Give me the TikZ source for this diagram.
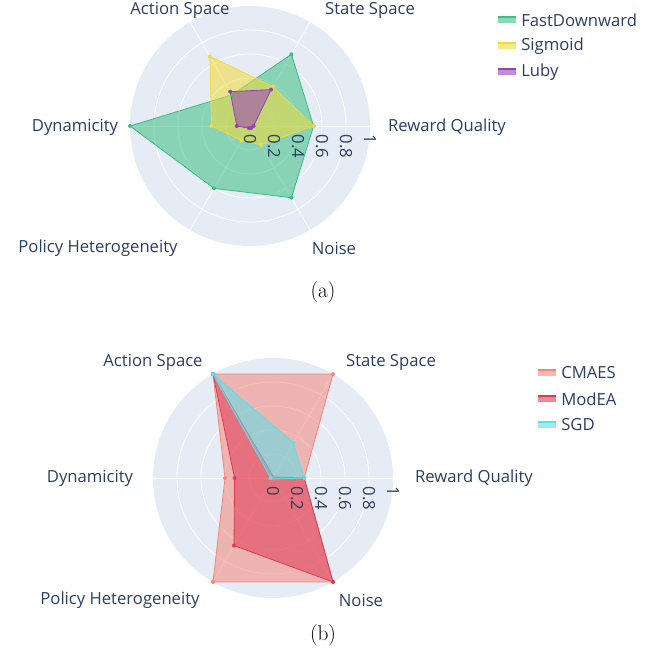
\documentclass[tikz,border=0pt]{standalone}
\usepackage{fontspec}
\setmainfont{Open Sans}
\newfontfamily\capfont{Latin Modern Roman}
\begin{document}
\begin{tikzpicture}[x=0.75pt,y=-0.75pt,
  lab/.style={text=txt,font=\fontsize{12.5}{14}\selectfont,inner sep=0pt},
  tick/.style={text=txt,font=\fontsize{12.5}{14}\selectfont,inner sep=0pt,rotate=-90,anchor=west},
  captext/.style={font=\capfont\fontsize{16}{18}\selectfont,inner sep=0pt},
  poly/.style={fill=#1,fill opacity=0.55,draw=#1,line width=0.6pt},
  dot/.style={fill=#1,circle,inner sep=0pt,minimum size=3pt}]
\definecolor{txt}{HTML}{2A3F5F}
\definecolor{bgp}{HTML}{E5ECF6}
\definecolor{colG}{HTML}{3DBE82}
\definecolor{colY}{HTML}{F2DA3A}
\definecolor{colP}{HTML}{9B3FB8}
\definecolor{colS}{HTML}{F4877A}
\definecolor{colM}{HTML}{E03A55}
\definecolor{colC}{HTML}{5CE0EA}
\useasboundingbox (0,0) rectangle (651,656);
% ---------- chart (a)
\begin{scope}[shift={(250,126)},x=90pt,y=90pt]
\fill[bgp] (0,0) circle (1);
\foreach \r in {0.2,0.4,0.6,0.8} \draw[white,line width=0.6pt] (0,0) circle (\r);
\foreach \a in {0,60,...,300} \draw[white,line width=0.6pt] (0,0) -- (\a:1);
\draw[poly=colG] (120:0.3) -- (60:0.69) -- (0:0.53) -- (-60:0.69) -- (-120:0.6) -- (180:1) -- cycle;
\draw[poly=colY] (120:0.67) -- (60:0.38) -- (0:0.53) -- (-60:0.18) -- (-120:0.14) -- (180:0.32) -- cycle;
\draw[poly=colP] (120:0.33) -- (60:0.35) -- (0:0.03) -- (-60:0.02) -- (-120:0.02) -- (180:0.11) -- cycle;
\foreach \a/\v in {120/0.3,60/0.69,0/0.53,-60/0.69,-120/0.6,180/1} \node[dot=colG] at (\a:\v) {};
\foreach \a/\v in {120/0.67,60/0.38,0/0.53,-60/0.18,-120/0.14,180/0.32} \node[dot=colY] at (\a:\v) {};
\foreach \a/\v in {120/0.33,60/0.35,0/0.03,-60/0.02,-120/0.02,180/0.11} \node[dot=colP] at (\a:\v) {};
\foreach \v/\t in {0/0,0.2/0.2,0.4/0.4,0.6/0.6,0.8/0.8,1/1} \node[tick] at (\v,-0.07) {\t};
\end{scope}
\node[lab] (a1) at (180,10) {Action Space};
\node[lab] (a2) at (370,10) {State Space};
\node[lab] (a3) at (447,127) {Reward Quality};
\node[lab] (a4) at (334,248) {Noise};
\node[lab] (a5) at (98,248) {Policy Heterogeneity};
\node[lab] (a6) at (75,127) {Dynamicity};
\node[captext] (ca) at (323,292) {(a)};
\foreach \y/\c/\t in {20/colG/FastDownward,46/colY/Sigmoid,72/colP/Luby}{
  \fill[\c,opacity=0.6] (498,\y-3) rectangle (516,\y+3);
  \draw[\c,line width=1.2pt] (498,\y-3) -- (516,\y-3);
  \node[lab,anchor=west] at (521,\y) {\t};}
% ---------- chart (b)
\begin{scope}[shift={(273,478)},x=90pt,y=90pt]
\fill[bgp] (0,0) circle (1);
\foreach \r in {0.2,0.4,0.6,0.8} \draw[white,line width=0.6pt] (0,0) circle (\r);
\foreach \a in {0,60,...,300} \draw[white,line width=0.6pt] (0,0) -- (\a:1);
\draw[poly=colS] (120:1) -- (60:1) -- (0:0.26) -- (-60:1) -- (-120:1) -- (180:0.4) -- cycle;
\draw[poly=colM] (120:1) -- (60:0.01) -- (0:0.26) -- (-60:1) -- (-120:0.65) -- (180:0.32) -- cycle;
\draw[poly=colC] (120:1) -- (60:0.34) -- (0:0.26) -- (-60:0.01) -- (-120:0.01) -- (180:0.02) -- cycle;
\foreach \a/\v in {120/1,60/1,0/0.26,-60/1,-120/1,180/0.4} \node[dot=colS] at (\a:\v) {};
\foreach \a/\v in {120/1,0/0.26,-60/1,-120/0.65,180/0.32} \node[dot=colM] at (\a:\v) {};
\foreach \a/\v in {120/1,60/0.34,0/0.26,180/0.02} \node[dot=colC] at (\a:\v) {};
\foreach \v/\t in {0/0,0.2/0.2,0.4/0.4,0.6/0.6,0.8/0.8,1/1} \node[tick] at (\v,-0.07) {\t};
\end{scope}
\node[lab] (b1) at (153,362) {Action Space};
\node[lab] (b2) at (391,362) {State Space};
\node[lab] (b3) at (474,478) {Reward Quality};
\node[lab] (b4) at (361,600) {Noise};
\node[lab] (b5) at (120,600) {Policy Heterogeneity};
\node[lab] (b6) at (90,478) {Dynamicity};
\node[captext] (cb) at (323,635) {(b)};
\foreach \y/\c/\t in {373/colS/CMAES,399/colM/ModEA,425/colC/SGD}{
  \fill[\c,opacity=0.6] (538,\y-3) rectangle (556,\y+3);
  \draw[\c,line width=1.2pt] (538,\y-3) -- (556,\y-3);
  \node[lab,anchor=west] at (561,\y) {\t};}
\end{tikzpicture}
\end{document}
